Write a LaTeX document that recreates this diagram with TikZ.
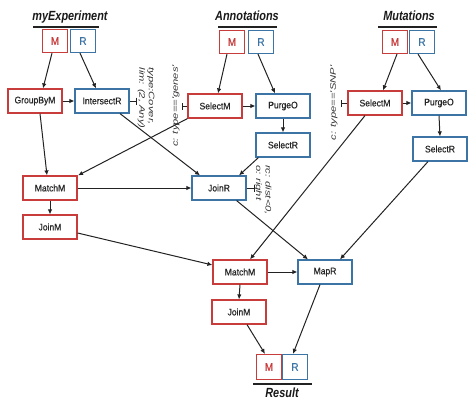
\documentclass[tikz,border=0pt]{standalone}
\usepackage{fontspec}
\setmainfont{Liberation Sans}
\newfontfamily\boxfont[FakeStretch=0.9,FakeBold=0.5]{Liberation Sans}
\newfontfamily\headfont[FakeStretch=0.82]{Liberation Sans}
\newfontfamily\labfont[FakeStretch=1.4]{Liberation Sans}
\usetikzlibrary{arrows.meta}
\definecolor{myred}{HTML}{C83C3C}
\definecolor{myblue}{HTML}{3C74A6}
\definecolor{lnc}{HTML}{222222}
\begin{document}
\begin{tikzpicture}[x=1pt,y=-1pt,
 opbox/.style={draw, line width=1.2pt, fill=white, minimum width=54pt, minimum height=24pt, inner sep=0pt, text=black!85, font=\boxfont\fontsize{9.5}{11}\selectfont},
 mop/.style={opbox, draw=myred},
 rop/.style={opbox, draw=myblue},
 dsbox/.style={draw, line width=1.2pt, fill=white, minimum width=25pt, minimum height=23pt, inner sep=0pt, font=\boxfont\fontsize{11}{13}\selectfont},
 mds/.style={dsbox, draw=myred, text=myred},
 rds/.style={dsbox, draw=myblue, text=myblue},
 head/.style={font=\headfont\bfseries\itshape\fontsize{13.3}{15}\selectfont, inner sep=0pt, anchor=base, text=black!90},
 hline/.style={line width=1.3pt, draw=lnc},
 arr/.style={-{Latex[length=5pt,width=4.5pt]}, line width=1pt, draw=lnc},
 tbar/.style={-{Bar[width=7pt,line width=1pt]}, line width=1pt, draw=lnc},
 lab/.style={font=\labfont\itshape\fontsize{8}{9.5}\selectfont, inner sep=0pt, align=left, text=black!80},
]
\useasboundingbox (0,0) rectangle (474,404);

% headers
\node[head] (hexp) at (70,20.5) {myExperiment};
\node[head] (hann) at (247,20.5) {Annotations};
\node[head] (hmut) at (409,20.5) {Mutations};
\node[head] (hres) at (282,397) {Result};
\draw[hline] (33,27) -- (99,27);
\draw[hline] (218,27) -- (277,27);
\draw[hline] (378,27) -- (437,27);
\draw[hline] (253,384) -- (312,384);

% dataset boxes
\node[mds] (eM) at (55,41) {M};
\node[rds] (eR) at (83,41) {R};
\node[mds] (aM) at (232,42) {M};
\node[rds] (aR) at (261,42) {R};
\node[mds] (uM) at (395,42) {M};
\node[rds] (uR) at (422,42) {R};
\node[mds, minimum height=25pt] (rM) at (269,367) {M};
\node[rds, minimum height=25pt] (rR) at (295,367) {R};

% operators
\node[mop] (gb) at (35,101) {GroupByM};
\node[rop] (ir) at (102,101) {IntersectR};
\node[mop] (asm) at (215,106) {SelectM};
\node[rop] (apo) at (283,106) {PurgeO};
\node[rop] (asr) at (283,145) {SelectR};
\node[mop] (usm) at (375,103) {SelectM};
\node[rop] (upo) at (439,103) {PurgeO};
\node[rop] (usr) at (440,149) {SelectR};
\node[mop] (mm1) at (50,188) {MatchM};
\node[mop] (jm1) at (50,227) {JoinM};
\node[rop] (jr) at (219,188) {JoinR};
\node[mop] (mm2) at (240,272) {MatchM};
\node[rop] (mr) at (325,272) {MapR};
\node[mop] (jm2) at (239,312) {JoinM};

% parameter labels
\node[lab, rotate=-90] (l1) at (146,98) {type:Cover,\\lim: (2, Any)};
\node[lab, rotate=90] (l2) at (176,106) {c: type=='genes'};
\node[lab, rotate=-90] (l3) at (263,190) {rc: dist<0,\\o: right};
\node[lab, rotate=90] (l4) at (334,103) {c: type=='SNP'};
\coordinate (t1) at (137,101);
\coordinate (t2) at (182,106);
\coordinate (t3) at (255,188);
\coordinate (t4) at (341,103);
\draw[tbar] (ir.east) -- (t1);
\draw[tbar] (asm.west) -- (t2);
\draw[tbar] (jr.east) -- (t3);
\draw[tbar] (usm.west) -- (t4);

% connectors
\draw[arr] ([xshift=-3pt]eM.south) -- ([xshift=8pt]gb.north);
\draw[arr] ([xshift=-3pt]eR.south) -- ([xshift=-6pt]ir.north);
\draw[arr] (gb.east) -- (ir.west);
\draw[arr] ([xshift=18pt]ir.south) -- ([xshift=-19pt]jr.north);
\draw[arr] ([xshift=5pt]gb.south) -- ([xshift=-3pt]mm1.north);
\draw[arr] (asm.south west) -- ([xshift=28pt]mm1.north);

\draw[arr] ([xshift=-5pt]aM.south) -- ([xshift=3pt]asm.north);
\draw[arr] ([xshift=-3pt]aR.south) -- ([xshift=-8pt]apo.north);
\draw[arr] (asm.east) -- (apo.west);
\draw[arr] (apo.south) -- (asr.north);
\draw[arr] ([xshift=3pt]asr.south west) -- ([xshift=20pt]jr.north);

\draw[arr] ([xshift=2pt]uM.south) -- ([xshift=8pt]usm.north);
\draw[arr] ([xshift=-4pt]uR.south) -- ([xshift=2pt]upo.north);
\draw[arr] (usm.east) -- (upo.west);
\draw[arr] (upo.south) -- (usr.north);
\draw[arr] ([xshift=-10pt]usm.south) -- ([xshift=10pt]mm2.north);
\draw[arr] ([xshift=-12pt]usr.south) -- ([xshift=15pt]mr.north);

\draw[arr] (mm1.east) -- (jr.west);
\draw[arr] (mm1.south) -- (jm1.north);
\draw[arr] ([yshift=-6pt]jm1.east) -- ([yshift=7pt]mm2.west);
\draw[arr] ([xshift=-10pt]jr.south east) -- ([xshift=-17pt]mr.north);
\draw[arr] (mm2.east) -- (mr.west);
\draw[arr] (mm2.south) -- (jm2.north);
\draw[arr] ([xshift=8pt]jm2.south) -- ([xshift=-4pt]rM.north);
\draw[arr] ([xshift=-5pt]mr.south) -- ([xshift=-2pt]rR.north);
\end{tikzpicture}
\end{document}
